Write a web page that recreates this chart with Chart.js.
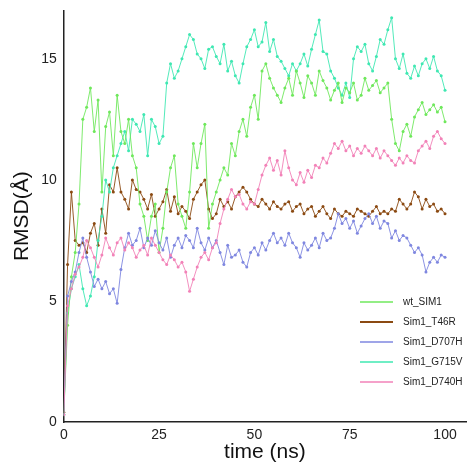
<!DOCTYPE html>
<html>
<head>
<meta charset="utf-8">
<script src="https://cdn.jsdelivr.net/npm/chart.js@4"></script>
<style>
  body { margin: 0; background: #fff; }
  #wrap { width: 474px; height: 467px; }
</style>
</head>
<body>
<div id="wrap"><canvas id="rmsd"></canvas></div>
<script>
const tempos = [];
for (let t = 0; t <= 100; t++) tempos.push(t);

const nomes = ["wt_SIM1", "Sim1_T46R", "Sim1_D707H", "Sim1_G715V", "Sim1_D740H"];
const cores = ["#6fe85c", "#8b4a12", "#7f87e0", "#3fe8b2", "#f282b8"];
const ticksX = [0, 25, 50, 75, 100];
const ticksY = [0, 5, 10, 15];

const wtSim1 = [0.3,4,6,7,9,12.5,13,13.8,12,13.3,9.5,12.2,12.8,11,13.5,12,11.5,12.5,11,10.5,9,8.5,7.5,8.5,9,7,8,9.5,10.5,11,9,8.5,8,9.5,11.5,10.5,11.5,12.3,8,9,9.5,10,10.5,10.2,11.5,11,12,12.5,11.8,13,13.5,12.5,14.5,14.8,14.2,13.8,13.5,13.2,13.8,14.2,13.5,14.5,14,13.4,14.3,14,13.5,14.5,14.1,13.8,13.3,13.7,14,13.2,13.8,13.6,14,13.3,13.5,14.2,13.7,13.9,14.1,13.6,13.8,14,12.5,11.5,11.2,12,12.3,11.8,12.6,12.9,13.2,12.7,12.9,13.1,12.8,13,12.4];
const t46r = [0.4,6.5,9.5,7.5,7.3,7.4,7,7.8,8.2,7.3,8.8,7.8,9.8,9.5,10.5,9.5,9.2,8.8,10,9.6,9.5,9.2,8.8,9.4,8.5,8.8,9.1,9.6,8.7,9.3,8.6,8.9,8.7,8.4,9.2,9.5,9.8,10,8.8,8.4,8.6,9.2,8.9,9.1,8.8,9.3,9.5,9.7,9.5,9.2,9.0,8.9,9.2,9.0,8.8,9.1,8.9,8.8,9.0,9.1,8.7,8.9,9.0,8.6,8.8,8.9,8.5,8.7,8.9,8.6,8.4,8.8,8.6,8.5,8.7,8.6,8.5,8.8,8.7,8.6,8.5,8.7,8.9,8.6,8.7,8.6,8.8,8.7,9.2,9.0,8.8,9.0,9.5,9.3,8.8,9.2,8.9,9.0,8.7,8.8,8.6];
const d707h = [0.3,5.2,5.8,6.2,7,7.6,6.8,6.2,5.6,5.9,5.5,5.8,5.3,5.5,4.9,6.3,7.2,7.8,7.3,7.5,8,7.2,7.6,7.3,7.9,7.4,7.1,7.6,6.8,7.3,7.6,7.2,7.7,7.5,7.2,8.0,7.4,7.1,7.6,7.2,7.5,7.0,6.5,7.3,6.8,6.9,7.1,6.6,6.4,7.0,7.2,6.9,7.4,7.1,7.5,7.8,7.4,7.6,7.3,7.8,7.4,7.2,6.8,7.4,7.1,7.3,7.6,7.2,7.8,7.5,7.6,8.0,8.6,8.2,8.4,8.0,8.3,7.8,8.1,8.4,8.6,8.2,8.5,8.0,8.3,8.2,7.6,7.9,7.5,7.7,7.6,7.3,7.0,7.2,6.9,6.2,6.6,6.8,6.6,6.9,6.8];
const g715v = [0.3,4.5,5.5,6,6.5,5.5,4.8,5.2,6,7.5,8.5,10,9.5,10.5,11,11.5,12,11.2,12.5,12.3,12,12.7,11,12.5,12.2,11.5,11.8,14,14.8,14.2,14.5,15,15.5,16,15.8,15.2,15,14.6,15.4,15.5,15.1,14.8,15.6,14.5,14.9,14.3,14,14.8,15.5,15.8,16.2,15.5,15.7,16.5,15.3,15.8,15.1,14.9,14.6,14.3,14.8,14.5,14.8,15.2,14.7,15.4,16,16.6,15.3,15.2,14.5,14.2,13.8,13.5,14,13.4,15,15.5,15.3,15.6,14.8,14.5,15.1,15.8,15.6,16.2,16.7,15,14.6,15.2,14.4,14.2,14.7,14.3,14.8,15,14.6,15.1,14.5,14.3,13.7];
const d740h = [0.3,4.8,5.5,6.1,6.4,6.8,7.5,7.2,6.8,6.4,6.9,7.6,7.2,6.9,7.4,7.6,7.1,7.4,7.2,6.8,7.1,7.3,6.9,7.6,7.3,7.0,6.7,6.5,6.9,6.7,6.4,6.6,6.2,5.4,5.9,6.4,6.8,7.0,6.7,7.2,7.4,8.2,8.8,9.2,9.6,9.3,9.4,9.0,8.8,9.1,9.0,9.6,10.2,10.6,10.9,10.4,10.8,10.2,11.2,10.5,10.0,9.8,10.3,9.9,10.4,10.1,10.6,10.5,10.9,10.7,11.1,11.5,11.3,11.6,11.2,11.4,11.0,11.3,11.1,11.4,11.2,11.0,11.3,10.9,11.2,11.0,10.8,10.6,10.9,10.7,11.0,10.8,10.7,11.2,11.4,11.6,11.3,11.8,12.0,11.7,11.5];

const series = [wtSim1, t46r, d707h, g715v, d740h];
const ordem = [4, 2, 0, 3, 1];

function pontos(valores) {
  return tempos.map((t, i) => ({ x: t, y: valores[i] }));
}

// legenda desenhada dentro do grafico
const legendaInterna = {
  id: "legendaInterna",
  afterDraw(chart) {
    const ctx = chart.ctx;
    ctx.save();
    ctx.font = "10px Arial, 'Liberation Sans'";
    ctx.textBaseline = "middle";
    for (let i = 0; i < nomes.length; i++) {
      const y = 302 + i * 20;
      ctx.strokeStyle = cores[i];
      ctx.lineWidth = i == 1 ? 2 : 1.5;
      ctx.beginPath();
      ctx.moveTo(360, y);
      ctx.lineTo(393, y);
      ctx.stroke();
      ctx.fillStyle = "#222";
      ctx.fillText(nomes[i], 403, y);
    }
    ctx.restore();
  },
};

new Chart(document.getElementById("rmsd").getContext("2d"), {
  type: "line",
  data: {
    datasets: ordem.map((k) => ({
      label: nomes[k],
      data: pontos(series[k]),
      borderColor: cores[k],
      backgroundColor: cores[k],
      borderWidth: 0.9,
      pointRadius: 1.5,
      pointBorderWidth: 0,
      tension: 0,
    })),
  },
  options: {
    animation: false,
    responsive: true,
    maintainAspectRatio: false,
    layout: { padding: { top: 8, right: 8, left: 10, bottom: 2 } },
    plugins: { legend: { display: false }, tooltip: { enabled: false } },
    scales: {
      x: {
        type: "linear",
        min: 0,
        max: 105.5,
        afterBuildTicks: (eixo) => { eixo.ticks = ticksX.map((v) => ({ value: v })); },
        grid: { display: false, drawTicks: true, tickLength: 5, tickColor: "#222" },
        border: { color: "#222", width: 1.5 },
        ticks: {
          color: "#222",
          font: { size: 14, family: "Arial, 'Liberation Sans'" },
          padding: 0,
        },
        title: {
          display: true,
          text: "time (ns)",
          color: "#111",
          font: { size: 21, family: "Arial, 'Liberation Sans'" },
          padding: { top: -4, bottom: 0 },
        },
      },
      y: {
        min: 0,
        max: 17,
        afterBuildTicks: (eixo) => { eixo.ticks = ticksY.map((v) => ({ value: v })); },
        grid: { display: false, tickLength: 5, tickColor: "#222" },
        border: { color: "#222", width: 1.5 },
        ticks: {
          color: "#222",
          font: { size: 14, family: "Arial, 'Liberation Sans'" },
          padding: 2,
        },
        title: {
          display: true,
          text: "RMSD(Å)",
          color: "#111",
          font: { size: 21, family: "Arial, 'Liberation Sans'" },
          padding: { top: 0, bottom: 4 },
        },
      },
    },
  },
  plugins: [legendaInterna],
});
</script>
</body>
</html>
